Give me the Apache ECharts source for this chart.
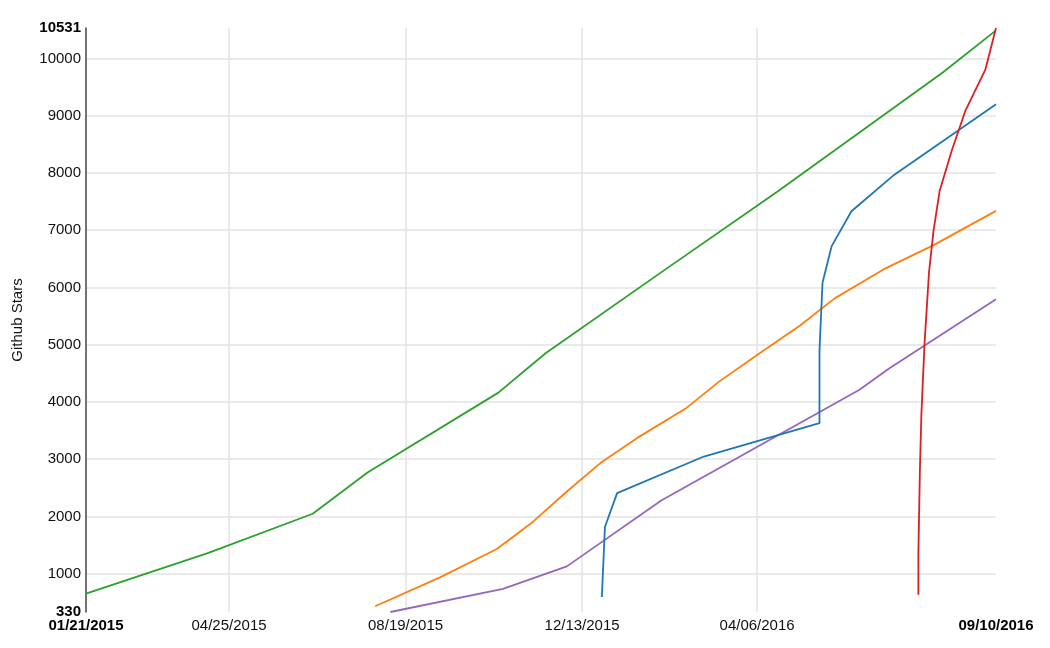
<!DOCTYPE html>
<html>
<head>
<meta charset="utf-8">
<script src="https://cdn.jsdelivr.net/npm/echarts@6/dist/echarts.min.js"></script>
<style>
html,body{margin:0;padding:0;background:#fff;}
#chart{width:1050px;height:648px;}
</style>
</head>
<body>
<div id="chart"></div>
<script>
// ---- axis data ----
const xStart = '2015-01-21';
const xEnd = '2016-09-10';
const xTickDates = ['2015-04-25', '2015-08-19', '2015-12-13', '2016-04-06'];
const yMin = 330;
const yMax = 10531;
const yTicks = [1000, 2000, 3000, 4000, 5000, 6000, 7000, 8000, 9000, 10000];
const yAxisTitle = 'Github Stars';

// ---- series data ----
const greenDates  = ['2015-01-21','2015-04-11','2015-06-19','2015-07-25','2015-10-19','2015-11-19','2016-02-02','2016-04-19','2016-08-06','2016-09-10'];
const greenValues = [650, 1360, 2046, 2767, 4162, 4849, 6245, 7668, 9755, 10490];

const orangeDates  = ['2015-07-30','2015-09-11','2015-10-18','2015-11-11','2015-12-03','2015-12-25','2016-01-18','2016-02-19','2016-03-12','2016-04-06','2016-05-04','2016-05-27','2016-06-28','2016-07-31','2016-09-10'];
const orangeValues = [430, 940, 1431, 1912, 2435, 2931, 3367, 3883, 4354, 4820, 5331, 5808, 6314, 6738, 7337];

const blueDates  = ['2015-12-26','2015-12-28','2016-01-05','2016-03-02','2016-05-17','2016-05-17','2016-05-19','2016-05-25','2016-06-07','2016-07-05','2016-09-10'];
const blueValues = [593, 1814, 2407, 3046, 3628, 4900, 6080, 6721, 7330, 7965, 9198];

const purpleDates  = ['2015-08-09','2015-10-22','2015-12-03','2016-02-03','2016-06-12','2016-07-02','2016-09-10'];
const purpleValues = [330, 733, 1127, 2278, 4209, 4588, 5791];

const redDates  = ['2016-07-21','2016-07-21','2016-07-22','2016-07-23','2016-07-25','2016-07-28','2016-07-31','2016-08-04','2016-08-12','2016-08-21','2016-09-03','2016-09-10'];
const redValues = [633, 1361, 2814, 3803, 5000, 6273, 6999, 7690, 8395, 9093, 9803, 10531];

// ---- helpers ----
function ts(s) {
  const p = s.split('-').map(Number);
  return new Date(p[0], p[1] - 1, p[2]).getTime();
}
function pad(n) { return (n < 10 ? '0' : '') + n; }
function fmtDate(t) {
  const d = new Date(t);
  return pad(d.getMonth() + 1) + '/' + pad(d.getDate()) + '/' + d.getFullYear();
}
function zip(dates, values) {
  return dates.map((d, i) => [ts(d), values[i]]);
}

const xMinTs = ts(xStart), xMaxTs = ts(xEnd);
const xTickTs = xTickDates.map(ts);

const seriesDefs = [
  { name: 'green',  color: '#2ca02c', dates: greenDates,  values: greenValues },
  { name: 'orange', color: '#ff7f0e', dates: orangeDates, values: orangeValues },
  { name: 'purple', color: '#9467bd', dates: purpleDates, values: purpleValues },
  { name: 'blue',   color: '#1f77b4', dates: blueDates,   values: blueValues },
  { name: 'red',    color: '#dc1f22', dates: redDates,    values: redValues }
];

const font = "'Liberation Sans', Arial, Helvetica, sans-serif";
const chart = echarts.init(document.getElementById('chart'), null, { renderer: 'canvas' });

chart.setOption({
  animation: false,
  backgroundColor: '#fff',
  textStyle: { fontFamily: font },
  grid: { left: 86, right: 54, top: 28, bottom: 36, containLabel: false, outerBoundsMode: 'none' },
  xAxis: {
    type: 'value',
    min: xMinTs,
    max: xMaxTs,
    axisLine: { show: false },
    axisTick: { show: false, customValues: xTickTs },
    splitLine: { show: true, lineStyle: { color: '#e3e3e3', width: 1.5 } },
    axisLabel: {
      customValues: [xMinTs].concat(xTickTs, [xMaxTs]),
      margin: 6,
      fontSize: 15,
      color: '#111',
      fontFamily: font,
      formatter: function (v) {
        const s = fmtDate(v);
        return (v === xMinTs || v === xMaxTs) ? '{b|' + s + '}' : s;
      },
      rich: { b: { fontWeight: 'bold', fontSize: 15, color: '#000', fontFamily: font } }
    }
  },
  yAxis: {
    type: 'value',
    min: yMin,
    max: yMax,
    name: yAxisTitle,
    nameLocation: 'middle',
    nameGap: 61,
    nameTextStyle: { fontSize: 15, color: '#111', fontFamily: font },
    axisLine: { show: true, lineStyle: { color: '#444', width: 1.5 } },
    axisTick: { show: false, customValues: yTicks },
    splitLine: { show: true, lineStyle: { color: '#e3e3e3', width: 1.5 } },
    axisLabel: {
      customValues: [yMin].concat(yTicks, [yMax]),
      margin: 5,
      fontSize: 15,
      color: '#111',
      fontFamily: font,
      formatter: function (v) {
        return (v === yMin || v === yMax) ? '{b|' + v + '}' : String(v);
      },
      rich: { b: { fontWeight: 'bold', fontSize: 15, color: '#000', fontFamily: font } }
    }
  },
  series: seriesDefs.map(s => ({
    name: s.name,
    type: 'line',
    data: zip(s.dates, s.values),
    showSymbol: false,
    symbol: 'none',
    lineStyle: { color: s.color, width: 1.8 },
    itemStyle: { color: s.color },
    emphasis: { disabled: true }
  }))
});
</script>
</body>
</html>
